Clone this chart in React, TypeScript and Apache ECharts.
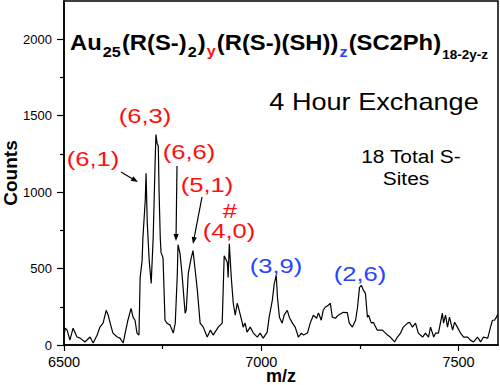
import React, { useEffect, useRef } from 'react';
import * as echarts from 'echarts';

const mz = [6500,6503,6508,6515,6523,6533,6541,6553,6566,6574,6584,6591,6599,6607,6612,6617,6624,6635,6642,6650,6655,6662,6670,6675,6680,6685,6690,6693,6698,6700,6706,6708,6711,6716,6721,6726,6731,6733,6736,6739,6741,6744,6746,6751,6756,6761,6769,6777,6782,6787,6789,6794,6799,6807,6810,6815,6822,6827,6832,6838,6845,6853,6863,6871,6878,6891,6901,6906,6914,6916,6919,6924,6929,6934,6939,6944,6952,6954,6959,6964,6972,6980,6990,6997,7005,7015,7020,7028,7033,7038,7041,7046,7053,7058,7066,7071,7079,7086,7094,7102,7107,7117,7124,7132,7140,7145,7152,7157,7162,7170,7175,7180,7188,7195,7208,7218,7223,7231,7239,7244,7249,7254,7259,7264,7269,7272,7279,7284,7294,7307,7320,7327,7338,7345,7353,7360,7371,7376,7383,7391,7398,7409,7416,7424,7429,7437,7442,7449,7459,7462,7467,7472,7477,7485,7490,7497,7505,7513,7523,7530,7538,7548,7556,7563,7574,7581,7586,7591,7596,7599];
const counts = [60,110,97,32,110,52,45,20,52,13,65,117,143,227,195,143,78,52,45,13,78,162,240,182,162,78,65,442,552,700,950,1123,800,550,403,700,1200,1377,1320,1300,1000,700,604,571,162,143,130,78,143,450,656,600,468,208,230,468,565,617,500,357,143,117,52,97,65,117,143,584,539,442,662,442,273,195,273,227,143,117,143,84,117,78,52,78,45,84,182,292,403,455,312,182,143,195,227,182,143,117,52,78,65,78,143,195,175,210,162,227,247,260,273,182,175,195,214,212,143,117,162,247,377,390,357,338,182,195,143,149,97,97,65,52,20,52,78,117,143,149,117,143,78,52,78,52,117,52,78,78,208,143,195,117,182,97,149,117,78,52,52,32,20,52,20,52,45,117,162,162,182,200];

const xTicks = [6500, 7000, 7500];
const xMinorTicks = [6750, 7250];
const yTicks = [0, 500, 1000, 1500, 2000];
const yMinorTicks = [250, 750, 1250, 1750];

const peakLabels = ['(6,1)', '(6,3)', '(6,6)', '(5,1)', '#', '(4,0)', '(3,9)', '(2,6)'];
const peakKinds = ['y', 'y', 'y', 'y', 'y', 'y', 'z', 'z'];

const titleParts = [
  { t: 'Au', k: 'main' },
  { t: '25', k: 'sub' },
  { t: '(R(S-)', k: 'main' },
  { t: '2', k: 'sub' },
  { t: ')', k: 'main' },
  { t: 'y', k: 'subR' },
  { t: '(R(S-)(SH))', k: 'main' },
  { t: 'z', k: 'subB' },
  { t: '(SC2Ph)', k: 'main' },
  { t: '18-2y-z', k: 'sub2' },
];

// layout (pixels)
const titleStart = 70;
const titleEnd = 488;
const labelPos = [[93, 159], [145, 116], [189, 152], [207, 185], [230, 211], [229, 231], [276, 266], [360, 274]];
const arrowPos = [[121, 172, 138, 182], [177, 166, 176, 241], [202, 197, 193, 244]];

const RED = '#ff1010';
const BLUE = '#2a44ff';
const FF = '"Liberation Sans", Arial, sans-serif';

function arrow(x1: number, y1: number, x2: number, y2: number) {
  const dx = x2 - x1, dy = y2 - y1;
  const len = Math.sqrt(dx * dx + dy * dy);
  const ux = dx / len, uy = dy / len;
  const hl = 7, hw = 2.6;
  const bx = x2 - ux * hl, by = y2 - uy * hl;
  return [
    { type: 'line', z: 100, shape: { x1, y1, x2: bx, y2: by }, style: { stroke: '#000', lineWidth: 1.2 } },
    {
      type: 'polygon', z: 100,
      shape: { points: [[x2, y2], [bx - uy * hw, by + ux * hw], [bx + uy * hw, by - ux * hw]] },
      style: { fill: '#000' },
    },
  ];
}

function txt(text: string, x: number, y: number, font: string, fill: string, align: string, scaleX = 1) {
  return {
    type: 'text', z: 100, x, y, scaleX,
    style: { text, font, fill, align, textAlign: align, verticalAlign: 'middle', textVerticalAlign: 'middle' },
  };
}

export default function App() {
  const ref = useRef<HTMLDivElement>(null);
  useEffect(() => {
    if (!ref.current) return;
    const chart = echarts.init(ref.current, null, { renderer: 'svg' });
    const data = mz.map((m, i) => [m, counts[i]]);

    const fonts: Record<string, [string, string, number]> = {
      main: [`bold 22px ${FF}`, '#000', 42],
      sub: [`bold 15px ${FF}`, '#000', 52],
      subR: [`bold 15px ${FF}`, RED, 51],
      subB: [`bold 15px ${FF}`, BLUE, 52],
      sub2: [`bold 12.5px ${FF}`, '#000', 55],
    };
    const ctx = document.createElement('canvas').getContext('2d')!;
    const widths = titleParts.map((p) => {
      ctx.font = fonts[p.k][0];
      return ctx.measureText(p.t).width;
    });
    const gap = 1;
    const total = widths.reduce((a, b) => a + b, 0) + gap * (titleParts.length - 1);
    const s = (titleEnd - titleStart) / total;
    const els: any[] = [];
    let cx = titleStart;
    titleParts.forEach((p, i) => {
      const f = fonts[p.k];
      els.push(txt(p.t, cx, f[2], f[0], f[1], 'left', s));
      cx += (widths[i] + gap) * s;
    });
    peakLabels.forEach((l, i) => {
      els.push(txt(l, labelPos[i][0], labelPos[i][1], `21px ${FF}`, peakKinds[i] === 'y' ? RED : BLUE, 'center', 1.22));
    });
    arrowPos.forEach((a) => els.push(...arrow(a[0], a[1], a[2], a[3])));
    els.push(txt('4 Hour Exchange', 374, 101.5, `24px ${FF}`, '#000', 'center', 1.13));
    els.push(txt('18 Total S-', 411, 156, `19px ${FF}`, '#000', 'center', 1.1));
    els.push(txt('Sites', 406, 178, `19px ${FF}`, '#000', 'center', 1.1));

    const axisFont = { fontFamily: FF, color: '#000' };
    const fmt = (v: number) => String(v);
    chart.setOption({
      animation: false,
      backgroundColor: '#fff',
      grid: {
        left: 64, right: 2, top: 1, bottom: 40, show: true, containLabel: false, outerBoundsMode: 'none',
        borderColor: '#000', borderWidth: 1.5, backgroundColor: 'transparent',
      },
      xAxis: [
        {
          type: 'value', min: 6500, max: 7600, interval: 500,
          name: 'm/z', nameLocation: 'middle', nameGap: 22, nameMoveOverlap: false,
          nameTextStyle: { ...axisFont, fontSize: 18, fontWeight: 'bold' },
          axisLine: { show: true, lineStyle: { color: '#000', width: 1.5 } },
          axisTick: { show: true, inside: false, length: 6, lineStyle: { color: '#000', width: 1.2 }, customValues: xTicks },
          axisLabel: { ...axisFont, fontSize: 14.5, margin: 9, customValues: xTicks, formatter: fmt },
          splitLine: { show: false },
        },
        {
          type: 'value', min: 6500, max: 7600, position: 'bottom',
          axisLine: { show: false },
          axisTick: { show: true, inside: false, length: 4, lineStyle: { color: '#000', width: 1.2 }, customValues: xMinorTicks },
          axisLabel: { show: false },
          splitLine: { show: false },
        },
      ],
      yAxis: [
        {
          type: 'value', min: 0, max: 2250, interval: 500,
          name: 'Counts', nameLocation: 'middle', nameGap: 44, nameMoveOverlap: false,
          nameTextStyle: { ...axisFont, fontSize: 19, fontWeight: 'bold' },
          axisLine: { show: true, lineStyle: { color: '#000', width: 1.5 } },
          axisTick: { show: true, inside: false, length: 7, lineStyle: { color: '#000', width: 1.2 }, customValues: yTicks },
          axisLabel: { ...axisFont, fontSize: 13, margin: 12, customValues: yTicks, formatter: fmt },
          splitLine: { show: false },
        },
        {
          type: 'value', min: 0, max: 2250, position: 'left',
          axisLine: { show: false },
          axisTick: { show: true, inside: false, length: 4, lineStyle: { color: '#000', width: 1.2 }, customValues: yMinorTicks },
          axisLabel: { show: false },
          splitLine: { show: false },
        },
      ],
      series: [
        {
          type: 'line', data, xAxisIndex: 0, yAxisIndex: 0,
          showSymbol: false, symbol: 'none',
          lineStyle: { color: '#000', width: 1.2 },
        },
      ],
      graphic: { elements: els },
    });
    return () => chart.dispose();
  }, []);
  return <div ref={ref} style={{ position: 'absolute', left: 0, top: 0, width: 500, height: 385 }} />;
}
